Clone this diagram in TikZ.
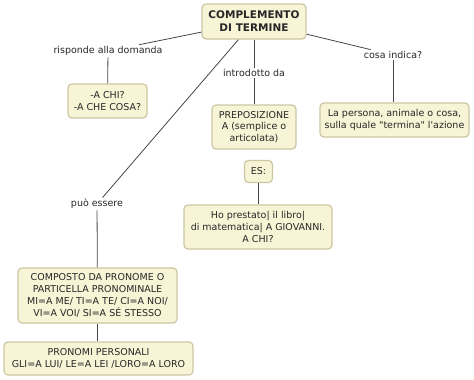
\documentclass[tikz,border=0pt]{standalone}
\usepackage{fontspec}
\setmainfont{DejaVu Sans}
\definecolor{boxfill}{RGB}{248,244,214}
\definecolor{boxline}{RGB}{204,198,164}
\definecolor{linkgray}{RGB}{70,70,70}
\tikzset{
    concept/.style={draw=boxline, fill=boxfill, line width=1.2pt, rounded corners=4pt,
        align=center, inner sep=0pt, text=black!85, font=\fontsize{9.5}{11.8}\selectfont},
    linklabel/.style={inner sep=1.5pt, text=black!85, font=\fontsize{9.5}{11.5}\selectfont},
    conn/.style={draw=linkgray, line width=0.8pt}
}
\begin{document}
\begin{tikzpicture}[x=1pt, y=-1pt]
    \useasboundingbox (0,0) rectangle (474,380);

    % Main concept
    \node[concept, minimum width=104pt, minimum height=35pt,
        font=\bfseries\fontsize{10.5}{13}\selectfont] (root) at (254,21.5)
        {COMPLEMENTO\\DI TERMINE};

    % Link labels
    \node[linklabel] (risp) at (108,51) {risponde alla domanda};
    \node[linklabel] (intro) at (254,73) {introdotto da};
    \node[linklabel] (cosa) at (393,55) {cosa indica?};
    \node[linklabel] (puo) at (97,204) {può essere};

    % Concepts
    \node[concept, minimum width=79pt, minimum height=34pt] (chi) at (107.5,101)
        {-A CHI?\\-A CHE COSA?};
    \node[concept, minimum width=84pt, minimum height=44pt] (prep) at (254,127)
        {PREPOSIZIONE\\A (semplice o\\articolata)};
    \node[concept, minimum width=28pt, minimum height=22pt] (es) at (258.5,171.5) {ES:};
    \node[concept, minimum width=148pt, minimum height=44pt] (esempio) at (258,227)
        {Ho prestato| il libro|\\di matematica| A GIOVANNI.\\A CHI?};
    \node[concept, minimum width=149pt, minimum height=34pt] (persona) at (394.5,120)
        {La persona, animale o cosa,\\sulla quale \textquotedbl termina\textquotedbl\ l\textquotesingle azione};
    \node[concept, minimum width=159pt, minimum height=55pt] (composto) at (97.5,295.5)
        {COMPOSTO DA PRONOME O\\PARTICELLA PRONOMINALE\\MI=A ME/ TI=A TE/ CI=A NOI/\\VI=A VOI/ SI=A SÉ STESSO};
    \node[concept, minimum width=189pt, minimum height=33pt] (pronomi) at (98.5,358.5)
        {PRONOMI PERSONALI\\GLI=A LUI/ LE=A LEI /LORO=A LORO};

    % Connectors
    \draw[conn] (root) -- (risp);
    \draw[conn] (risp) -- (chi);
    \draw[conn] (root) -- (intro);
    \draw[conn] (intro) -- (prep);
    \draw[conn] (root) -- (cosa);
    \draw[conn] (cosa) -- (cosa |- persona.north);
    \draw[conn] (root) -- (puo);
    \draw[conn] (puo) -- (composto);
    \draw[conn] (composto) -- (composto |- pronomi.north);
    \draw[conn] (es) -- (es |- esempio.north);
\end{tikzpicture}
\end{document}
